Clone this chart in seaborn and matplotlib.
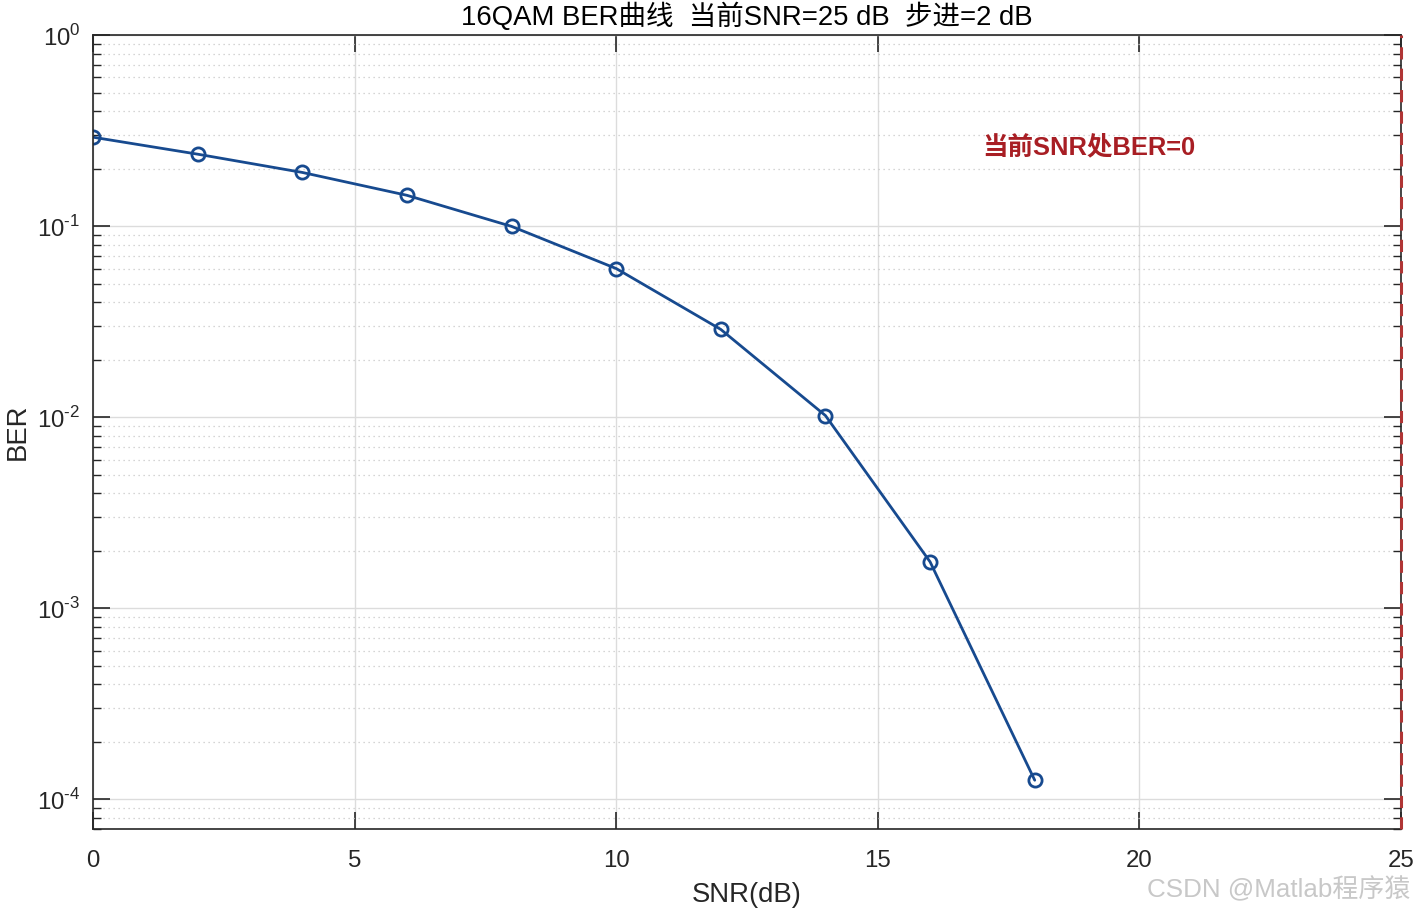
import numpy as np
import pandas as pd
import matplotlib
matplotlib.use("Agg")
import matplotlib.pyplot as plt
from matplotlib.ticker import FixedLocator, NullFormatter
import seaborn as sns

# data
snr_db = [0, 2, 4, 6, 8, 10, 12, 14, 16, 18]
ber = [0.292, 0.238, 0.191, 0.145, 0.0997, 0.060, 0.0288, 0.0102, 0.00175, 0.000126]
current_snr = 25
step_db = 2
x_ticks = [0, 5, 10, 15, 20, 25]
y_ticks = [1e-4, 1e-3, 1e-2, 1e-1, 1e0]

sns.set_theme(style="white")
plt.rcParams["font.family"] = ["Liberation Sans", "Noto Sans CJK SC", "DejaVu Sans"]
plt.rcParams["mathtext.fontset"] = "custom"
plt.rcParams["mathtext.rm"] = "Liberation Sans"
plt.rcParams["axes.unicode_minus"] = False

df = pd.DataFrame({"SNR": snr_db, "BER": ber})

fig = plt.figure(figsize=(14.17, 9.1), dpi=100)
ax = fig.add_axes([0.0656, 0.089, 0.9231, 0.8725])

sns.lineplot(data=df, x="SNR", y="BER", ax=ax, color="#174a8f", linewidth=2,
             marker="o", markersize=9.5, markerfacecolor="none",
             markeredgecolor="#174a8f", markeredgewidth=2)

ax.set_yscale("log")
ax.set_xlim(0, 25)
ax.set_ylim(7e-5, 1)
ax.set_xticks(x_ticks)
ax.yaxis.set_major_locator(FixedLocator(y_ticks))
minors = [m * 10.0 ** e for e in range(-5, 0) for m in range(2, 10)]
ax.yaxis.set_minor_locator(FixedLocator(minors))
ax.yaxis.set_minor_formatter(NullFormatter())


def exp_label(t):
    e = int(round(np.log10(t)))
    s = str(e).replace("-", "\u2010")
    return f"$10^{{\\mathrm{{{s}}}}}$"


ax.set_yticklabels([exp_label(t) for t in y_ticks])

ax.grid(True, which="major", color="#dcdcdc", linewidth=1, linestyle="-")
ax.grid(True, which="minor", axis="y", color="#c8c8c8", linewidth=0.9, linestyle=(0, (1, 3)))
ax.set_axisbelow(True)

ax.tick_params(which="both", direction="in", top=True, right=True, bottom=True, left=True,
               color="#262626")
ax.tick_params(which="major", length=12, width=1.2, labelsize=17.3, colors="#262626")
ax.tick_params(axis="y", which="major", pad=9)
ax.tick_params(axis="x", which="major", pad=15)
ax.tick_params(which="minor", length=6, width=1.0)
ax.tick_params(axis="x", which="minor", bottom=False, top=False)
for s in ax.spines.values():
    s.set_color("#262626")
    s.set_linewidth(1.2)

# red dashed marker at the current SNR
ax.axvline(current_snr, color="#b03535", linestyle="--", linewidth=2.2, dashes=(4, 3),
           zorder=5, clip_on=False)
ax.text(17, 0.26, "当前SNR处BER=0", color="#a81e24", fontsize=18.4, fontweight="bold",
        ha="left", va="center")

ax.set_title(f"16QAM BER曲线  当前SNR={current_snr} dB  步进={step_db} dB",
             fontsize=19.8, color="#000000", y=1.0126, pad=0)
ax.set_xlabel("SNR(dB)", fontsize=19.8, color="#262626", labelpad=7)
ax.set_ylabel("BER", fontsize=19.8, color="#262626")
ax.yaxis.set_label_coords(-0.0474, 0.5)

fig.text(0.995, 0.008, "CSDN @Matlab程序猿", ha="right", va="bottom",
         fontsize=18.7, color="#c8c8c8")

fig.savefig("out.png", dpi=100)
